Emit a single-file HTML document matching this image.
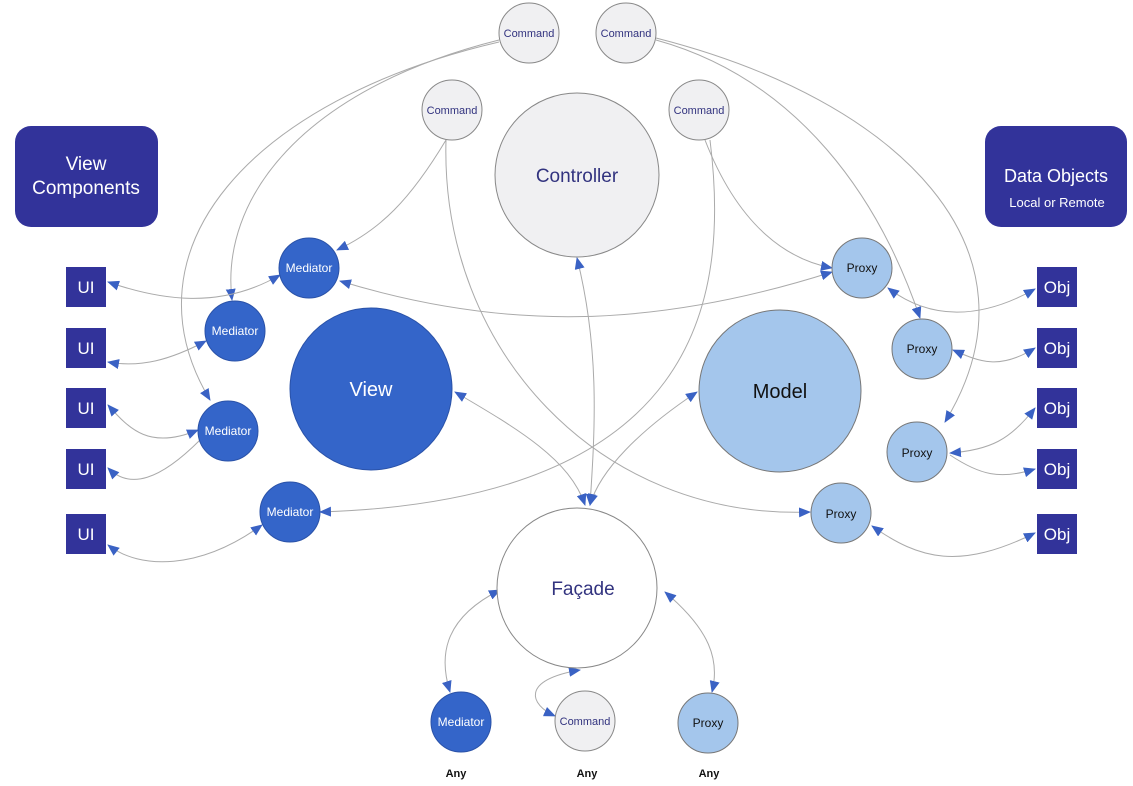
<!DOCTYPE html>
<html><head><meta charset="utf-8"><style>
html,body{margin:0;padding:0;background:#fff;width:1133px;height:786px;overflow:hidden}
svg text{font-family:"Liberation Sans",sans-serif}
</style></head><body>
<svg width="1133" height="786" viewBox="0 0 1133 786" xmlns="http://www.w3.org/2000/svg">
<defs>
<marker id="a" markerWidth="12" markerHeight="10" refX="11" refY="5" orient="auto-start-reverse" markerUnits="userSpaceOnUse">
<path d="M0,0 L12,5 L0,10 z" fill="#3a62c4"/></marker>
</defs>
<g fill="none" stroke="#aaa" stroke-width="1">
<path d="M499,40 C300,90 220,200 232,300" marker-end="url(#a)"/>
<path d="M499,42 C250,100 120,250 210,400" marker-end="url(#a)"/>
<path d="M656,40 C800,80 880,200 920,318" marker-end="url(#a)"/>
<path d="M656,38 C900,100 1050,250 945,422" marker-end="url(#a)"/>
<path d="M446,140 C410,200 380,230 337,250" marker-end="url(#a)"/>
<path d="M446,140 C440,350 600,520 810,512" marker-end="url(#a)"/>
<path d="M705,140 C740,230 790,260 832,268" marker-end="url(#a)"/>
<path d="M710,140 C730,300 700,500 320,512" marker-end="url(#a)"/>
<path d="M280,275 C220,310 160,300 108,282" marker-start="url(#a)" marker-end="url(#a)"/>
<path d="M206,341 C170,360 140,368 108,362" marker-start="url(#a)" marker-end="url(#a)"/>
<path d="M198,430 C150,450 130,430 108,405" marker-end="url(#a)" marker-start="url(#a)"/>
<path d="M200,440 C160,480 130,490 108,468" marker-end="url(#a)"/>
<path d="M262,525 C200,570 140,570 108,545" marker-start="url(#a)" marker-end="url(#a)"/>
<path d="M1035,289 C980,320 930,320 888,288" marker-start="url(#a)" marker-end="url(#a)"/>
<path d="M1035,348 C1000,370 980,362 953,350" marker-start="url(#a)" marker-end="url(#a)"/>
<path d="M1035,408 C1010,440 990,450 950,453" marker-start="url(#a)" marker-end="url(#a)"/>
<path d="M1035,469 C1000,480 980,475 950,455" marker-start="url(#a)"/>
<path d="M1035,533 C960,570 920,560 872,526" marker-start="url(#a)" marker-end="url(#a)"/>
<path d="M832,272 C650,330 500,330 340,281" marker-start="url(#a)" marker-end="url(#a)"/>
<path d="M577,258 C600,350 595,430 590,505" marker-start="url(#a)" marker-end="url(#a)"/>
<path d="M455,392 C520,430 570,460 585,505" marker-start="url(#a)" marker-end="url(#a)"/>
<path d="M697,392 C640,430 600,470 590,505" marker-start="url(#a)" marker-end="url(#a)"/>
<path d="M500,590 C440,620 440,660 450,692" marker-start="url(#a)" marker-end="url(#a)"/>
<path d="M665,592 C710,630 720,660 712,692" marker-start="url(#a)" marker-end="url(#a)"/>
<path d="M580,670 C520,680 530,705 555,716" marker-start="url(#a)" marker-end="url(#a)"/>
</g>
<rect x="15" y="126" width="143" height="101" rx="16" fill="#32339a"/>
<text x="86" y="170" fill="#fff" font-size="19" text-anchor="middle">View</text>
<text x="86" y="194" fill="#fff" font-size="19" text-anchor="middle">Components</text>
<rect x="985" y="126" width="142" height="101" rx="16" fill="#32339a"/>
<text x="1056" y="182" fill="#fff" font-size="18" text-anchor="middle">Data Objects</text>
<text x="1057" y="207" fill="#fff" font-size="13" text-anchor="middle">Local or Remote</text>
<g fill="#32339a">
<rect x="66" y="267" width="40" height="40"/><rect x="66" y="328" width="40" height="40"/><rect x="66" y="388" width="40" height="40"/><rect x="66" y="449" width="40" height="40"/><rect x="66" y="514" width="40" height="40"/>
<rect x="1037" y="267" width="40" height="40"/><rect x="1037" y="328" width="40" height="40"/><rect x="1037" y="388" width="40" height="40"/><rect x="1037" y="449" width="40" height="40"/><rect x="1037" y="514" width="40" height="40"/>
</g>
<g fill="#fff" font-size="17" text-anchor="middle">
<text x="86" y="293">UI</text><text x="86" y="354">UI</text><text x="86" y="414">UI</text><text x="86" y="475">UI</text><text x="86" y="540">UI</text>
<text x="1057" y="293">Obj</text><text x="1057" y="354">Obj</text><text x="1057" y="414">Obj</text><text x="1057" y="475">Obj</text><text x="1057" y="540">Obj</text>
</g>
<g fill="#f0f0f2" stroke="#888">
<circle cx="529" cy="33" r="30"/><circle cx="626" cy="33" r="30"/><circle cx="452" cy="110" r="30"/><circle cx="699" cy="110" r="30"/>
<circle cx="577" cy="175" r="82"/><circle cx="585" cy="721" r="30"/>
</g>
<circle cx="577" cy="588" r="80" fill="#fff" stroke="#888"/>
<g fill="#32337f" font-size="11" text-anchor="middle">
<text x="529" y="37">Command</text><text x="626" y="37">Command</text><text x="452" y="114">Command</text><text x="699" y="114">Command</text><text x="585" y="725">Command</text>
</g>
<text x="577" y="182" fill="#32337f" font-size="19" text-anchor="middle">Controller</text>
<text x="583" y="595" fill="#32337f" font-size="19" text-anchor="middle">Façade</text>
<g fill="#3465c9" stroke="#2a52a8">
<circle cx="309" cy="268" r="30"/><circle cx="235" cy="331" r="30"/><circle cx="228" cy="431" r="30"/><circle cx="290" cy="512" r="30"/>
<circle cx="371" cy="389" r="81"/><circle cx="461" cy="722" r="30"/>
</g>
<g fill="#fff" font-size="12" text-anchor="middle">
<text x="309" y="272">Mediator</text><text x="235" y="335">Mediator</text><text x="228" y="435">Mediator</text><text x="290" y="516">Mediator</text><text x="461" y="726">Mediator</text>
</g>
<text x="371" y="396" fill="#fff" font-size="20" text-anchor="middle">View</text>
<g fill="#a4c6ec" stroke="#777">
<circle cx="862" cy="268" r="30"/><circle cx="922" cy="349" r="30"/><circle cx="917" cy="452" r="30"/><circle cx="841" cy="513" r="30"/>
<circle cx="780" cy="391" r="81"/><circle cx="708" cy="723" r="30"/>
</g>
<g fill="#111" font-size="12" text-anchor="middle">
<text x="862" y="272">Proxy</text><text x="922" y="353">Proxy</text><text x="917" y="457">Proxy</text><text x="841" y="518">Proxy</text><text x="708" y="727">Proxy</text>
</g>
<text x="780" y="398" fill="#111" font-size="20" text-anchor="middle">Model</text>
<g fill="#111" font-size="11" font-weight="bold" text-anchor="middle">
<text x="456" y="777">Any</text><text x="587" y="777">Any</text><text x="709" y="777">Any</text>
</g>
</svg>
</body></html>
